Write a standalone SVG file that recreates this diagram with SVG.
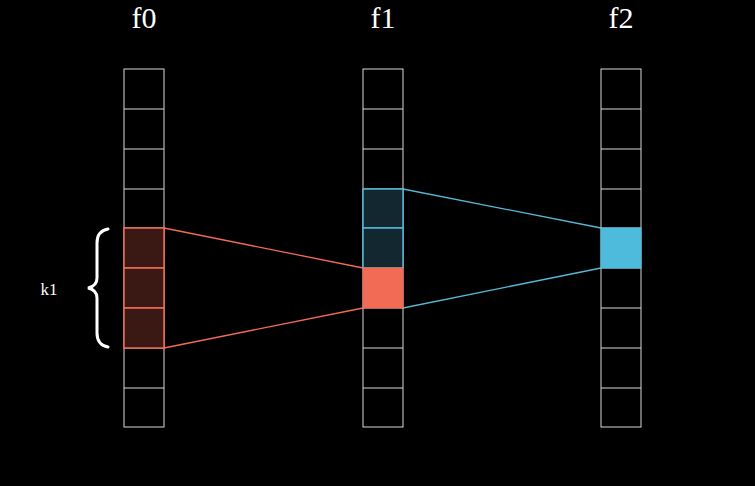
<svg xmlns="http://www.w3.org/2000/svg" width="755" height="486" viewBox="0 0 755 486">
<style>
.c{fill:none;stroke:#d8d8d8;stroke-width:1}
.t{font-family:"Liberation Serif",serif;fill:#fff}
</style>
<rect width="755" height="486" fill="#000"/>
<g id="connectors" fill="none" stroke-width="1.3">
<line x1="164" y1="228" x2="363" y2="268" stroke="#f26b55"/>
<line x1="164" y1="348" x2="363" y2="308" stroke="#f26b55"/>
<line x1="403" y1="189" x2="601" y2="228" stroke="#55b8d8"/>
<line x1="403" y1="308" x2="601" y2="268" stroke="#55b8d8"/>
</g>
<g id="f0">
<text class="t" x="144" y="28" font-size="30" text-anchor="middle">f0</text>
<rect class="c" x="124" y="69" width="40" height="358"/>
<path class="c" d="M124 109H164M124 149H164M124 189H164M124 228H164M124 268H164M124 308H164M124 348H164M124 388H164"/>
<g fill="#3a1914" stroke="#f26b55" stroke-width="1.5">
<rect x="124" y="228" width="40" height="40"/><rect x="124" y="268" width="40" height="40"/><rect x="124" y="308" width="40" height="40"/>
</g>
</g>
<g id="f1">
<text class="t" x="383" y="28" font-size="30" text-anchor="middle">f1</text>
<rect class="c" x="363" y="69" width="40" height="358"/>
<path class="c" d="M363 109H403M363 149H403M363 189H403M363 228H403M363 268H403M363 308H403M363 348H403M363 388H403"/>
<g fill="#12272f" stroke="#55b8d8" stroke-width="1.5">
<rect x="363" y="189" width="40" height="39"/><rect x="363" y="228" width="40" height="40"/>
</g>
<rect x="363" y="268" width="40" height="40" fill="#f26b55" stroke="#f26b55"/>
</g>
<g id="f2">
<text class="t" x="621" y="28" font-size="30" text-anchor="middle">f2</text>
<rect class="c" x="601" y="69" width="40" height="358"/>
<path class="c" d="M601 109H641M601 149H641M601 189H641M601 228H641M601 268H641M601 308H641M601 348H641M601 388H641"/>
<rect x="601" y="228" width="40" height="40" fill="#4fbbdc" stroke="#4fbbdc"/>
</g>
<g id="k1">
<path d="M108 229Q97 231 97 243V278Q97 286 88 288Q97 290 97 298V333Q97 345 108 347" fill="none" stroke="#fff" stroke-width="3" stroke-linecap="round"/>
<text class="t" x="49" y="295" font-size="17" text-anchor="middle">k1</text>
</g>
</svg>
